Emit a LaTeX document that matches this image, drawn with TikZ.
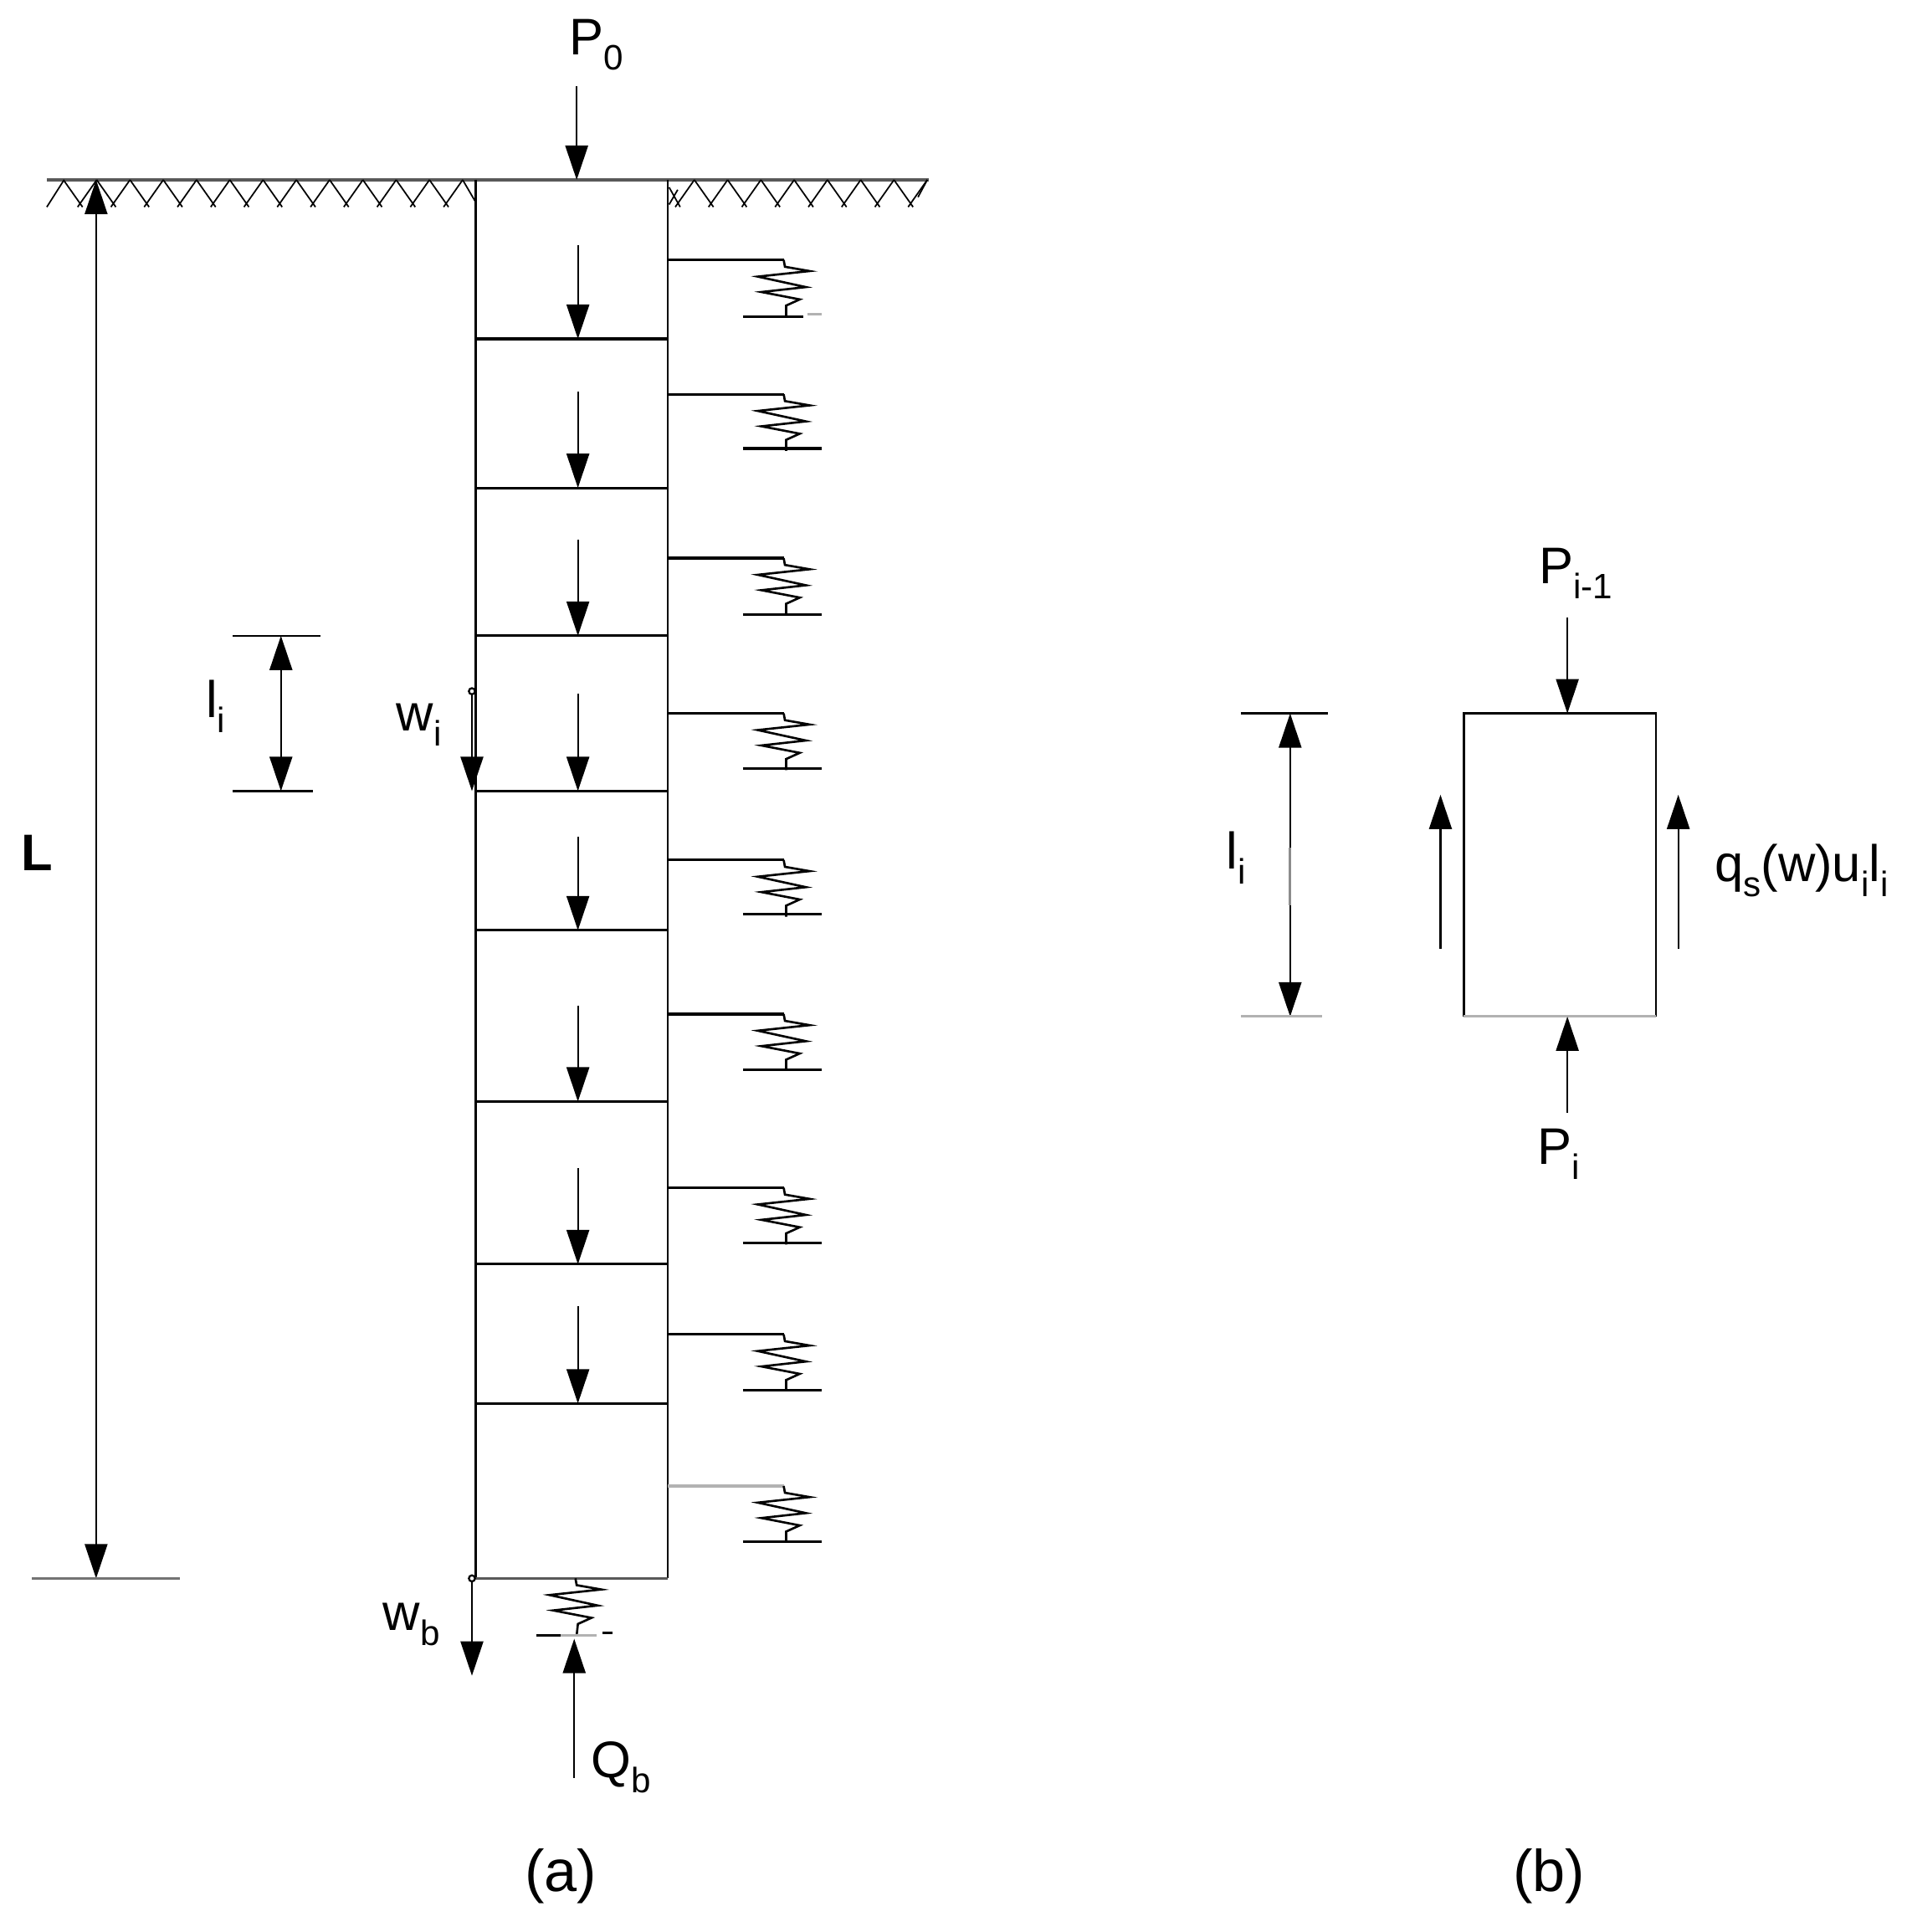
\documentclass[tikz,border=0pt]{standalone}
\usepackage{fontspec}
\setmainfont{Liberation Sans}
\usetikzlibrary{arrows.meta}
\newcommand{\sbs}[1]{\raisebox{-0.55ex}{\fontsize{12}{14}\selectfont #1}}

\begin{document}
\begin{tikzpicture}[x=0.014725cm, y=-0.014725cm, line width=0.65pt,
 frc/.style={-{Triangle[length=0.41cm,width=0.27cm]}},
 dim/.style={{Triangle[length=0.41cm,width=0.27cm]}-{Triangle[length=0.41cm,width=0.27cm]}},
 lbl/.style={inner sep=0pt, font=\fontsize{17.5}{20}\selectfont},
 slbl/.style={lbl, yshift=-0.05cm},
 hor/.style={line width=0.9pt},
 hatch/.style={line width=0.5pt},
 pale/.style={draw=black!30, line width=0.9pt}]
\useasboundingbox (0,0) rectangle (1547,1568);
% ground
\coordinate (g0) at (38,146); \coordinate (g1) at (754,146);
\draw[hor, draw=black!65] (g0) -- (g1);
\foreach \x in {65,92,...,365}{\draw[hatch] (\x-13.5,146) -- (\x+2,168) (\x+13.5,146) -- (\x-2,168);}
\foreach \x in {577,604,...,740}{\draw[hatch] (\x-13.5,146) -- (\x+2,168) (\x+13.5,146) -- (\x-2,168);}
\draw[hatch] (38,168) -- (52,146);
\draw[hatch] (375.5,146) -- (386,164);
\draw[hatch] (543,166) -- (550,154) (563.5,146) -- (548,168) (543,152) -- (552,168);
\draw[hatch] (752.5,146) -- (745,160);
% pile (a)
\coordinate (ptl) at (386,146); \coordinate (ptr) at (542,146);
\coordinate (pbl) at (386,1281); \coordinate (pbr) at (542,1281);
\draw (ptl) -- (pbl) (ptr) -- (pbr);
\draw[hor, draw=black!65] (pbl) -- (pbr);
\foreach \y [count=\i] in {275,396,516,642,755,894,1026,1139}{
 \coordinate (sl\i) at (386,\y); \coordinate (sr\i) at (542,\y);
 \draw[hor] (sl\i) -- (sr\i);}
\foreach \ya/\yb [count=\i] in {199/275,318/396,438/516,563/642,679/755,816/894,948/1026,1060/1139}{
 \coordinate (fa\i) at (469,\ya); \coordinate (fb\i) at (469,\yb);
 \draw[frc] (fa\i) -- (fb\i);}
% side springs
\foreach \y/\yb [count=\i] in {211/257,320/364,453/499,579/624,698/742,823/868,964/1009,1083/1128,1206/1251}{
 \coordinate (sp\i) at (542,\y); \coordinate (st\i) at (636,\y);
 \coordinate (bl\i) at (603,\yb); \coordinate (br\i) at (667,\yb);
 \ifnum\i=9 \draw[pale] (sp\i) -- (st\i); \else \draw[hor] (sp\i) -- (st\i); \fi
 \draw[line width=0.75pt] (st\i) -- ++(1,5.5) -- ++(20,3.5) -- ++(-42,4.5) -- ++(39,8.5) -- ++(-36,4) -- ++(31,6) -- ++(-11,5) -- ++(0,9);
 \ifnum\i=1 \draw[hor] (bl\i) -- (652,\yb); \draw[pale] (655,255) -- (667,255); \else \draw[hor] (bl\i) -- (br\i); \fi}
% base spring
\coordinate (bt) at (467,1281); \coordinate (bb) at (468,1327);
\coordinate (bbl) at (435,1327); \coordinate (bbr) at (497,1325);
\draw[line width=0.75pt] (bt) -- ++(1,5.5) -- ++(20,3.5) -- ++(-42,4.5) -- ++(39,8.5) -- ++(-36,4) -- ++(31,6) -- ++(-11,5) -- (bb);
\draw[hor] (bbl) -- (455,1327); \draw[pale] (455,1327) -- (484,1327); \draw[hor] (489,1325) -- (bbr);
% forces
\coordinate (p0a) at (468,70); \coordinate (p0b) at (468,146);
\draw[frc] (p0a) -- (p0b);
\node[slbl] (p0) at (484,33) {P\sbs{0}};
\coordinate (qa) at (466,1443); \coordinate (qb) at (466,1330);
\draw[frc] (qa) -- (qb);
\node[slbl] (qlb) at (504,1431) {Q\sbs{b}};
% displacements
\draw (383,561) circle (2.5); \draw (383,1281) circle (2.5);
\coordinate (wia) at (383,563); \coordinate (wib) at (383,642);
\coordinate (wba) at (383,1284); \coordinate (wbb) at (383,1360);
\draw[frc] (wia) -- (wib);
\draw[frc] (wba) -- (wbb);
\node[slbl] (wi) at (340,585) {w\sbs{i}};
\node[slbl] (wb) at (334,1315) {w\sbs{b}};
% dimensions
\coordinate (lt) at (78,146); \coordinate (lb) at (78,1281);
\coordinate (llb) at (26,1281); \coordinate (lrb) at (146,1281);
\draw[dim] (lt) -- (lb);
\draw[draw=black!55] (llb) -- (lrb);
\node[lbl] (ll) at (30,692) {\textbf{L}};
\coordinate (it) at (228,516); \coordinate (ib) at (228,642);
\draw[dim] (it) -- (ib);
\coordinate (itl) at (189,516); \coordinate (itr) at (260,516);
\coordinate (ibl) at (189,642); \coordinate (ibr) at (254,642);
\draw (itl) -- (itr) (ibl) -- (ibr);
\node[slbl] (li) at (175,570) {l\sbs{i}};
% element (b)
\coordinate (etl) at (1188,579); \coordinate (etr) at (1344,579);
\coordinate (ebl) at (1188,825); \coordinate (ebr) at (1344,825);
\draw (ebl) -- (etl) -- (etr) -- (ebr);
\draw[pale] (ebl) -- (ebr);
\coordinate (pia) at (1272,501); \coordinate (pib) at (1272,579);
\coordinate (pja) at (1272,903); \coordinate (pjb) at (1272,825);
\draw[frc] (pia) -- (pib);
\draw[frc] (pja) -- (pjb);
\node[slbl] (pim) at (1279,462) {P\sbs{i-1}};
\node[slbl] (pi) at (1265,933) {P\sbs{i}};
\coordinate (sfa) at (1169,770); \coordinate (sfb) at (1169,645);
\coordinate (sga) at (1362,770); \coordinate (sgb) at (1362,645);
\draw[frc] (sfa) -- (sfb);
\draw[frc] (sga) -- (sgb);
\node[slbl] (qs) at (1462,703) {q\sbs{s}(w)u\sbs{i}l\sbs{i}};
\coordinate (jt) at (1047,579); \coordinate (jb) at (1047,825);
\draw[dim] (jt) -- (jb);
\draw[draw=black!45, line width=0.9pt] (1047,688) -- (1047,735);
\coordinate (jtl) at (1007,579); \coordinate (jtr) at (1078,579);
\coordinate (jbl) at (1007,825); \coordinate (jbr) at (1073,825);
\draw (jtl) -- (jtr);
\draw[pale] (jbl) -- (jbr);
\node[slbl] (lj) at (1003,693) {l\sbs{i}};
% captions
\node[lbl] (capa) at (455,1523) {\fontsize{20}{24}\selectfont (a)};
\node[lbl] (capb) at (1257,1523) {\fontsize{20}{24}\selectfont (b)};
\end{tikzpicture}
\end{document}
